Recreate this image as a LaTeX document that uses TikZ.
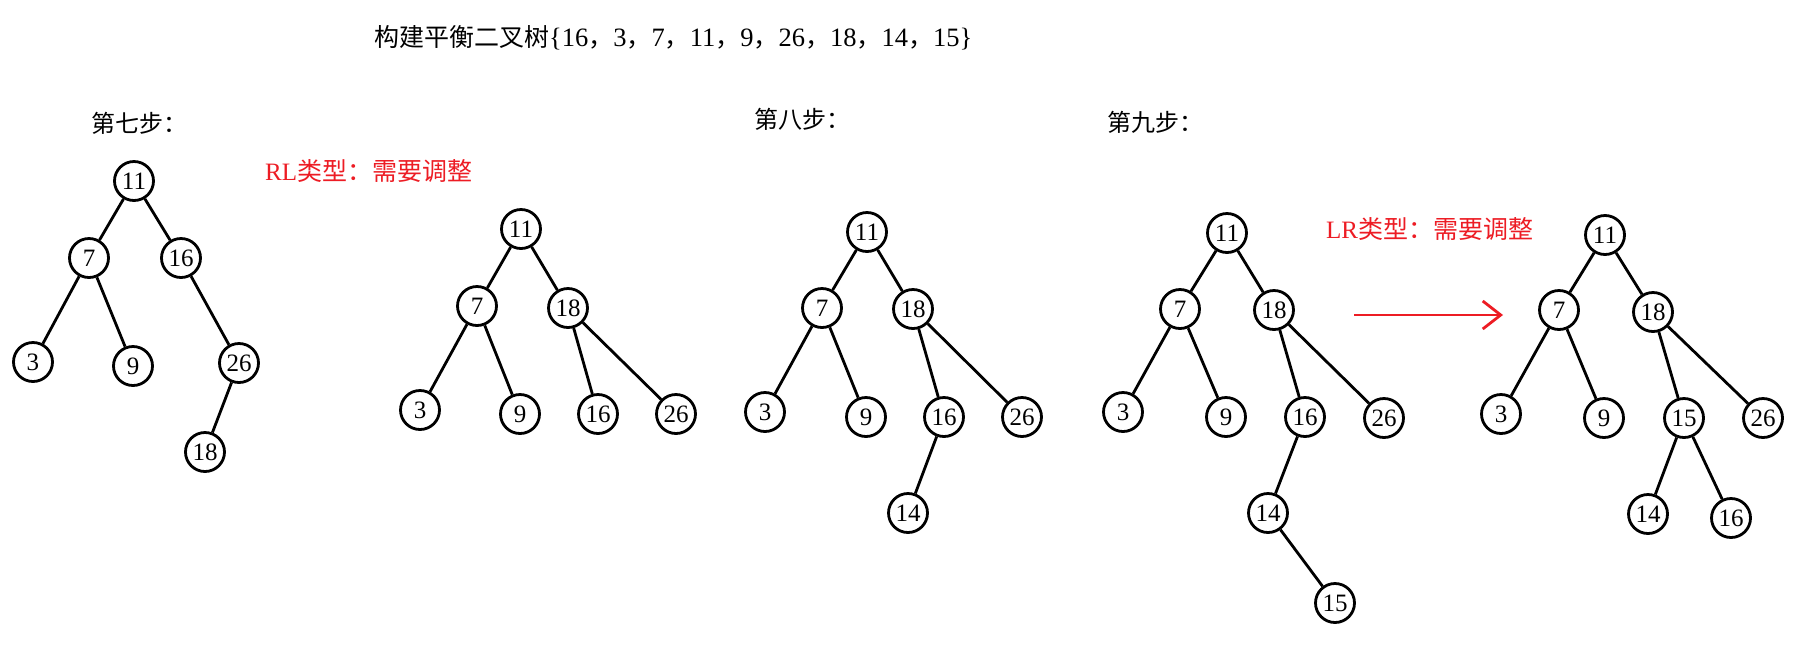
\documentclass[tikz,border=0pt]{standalone}
\usepackage{fontspec}
\setmainfont{Liberation Serif}
\newfontfamily\cjk{Noto Sans CJK SC}
\usetikzlibrary{arrows.meta}
\definecolor{pred}{RGB}{237,28,36}
\newcommand\zcomma{{\cjk\fontsize{25}{25}\selectfont ，}}
\begin{document}
\begin{tikzpicture}[x=1pt,y=-1pt,
  tn/.style={circle, draw, line width=2.8pt, minimum size=39pt, inner sep=0pt, font=\fontsize{25}{25}\selectfont},
  edge/.style={line width=2.8pt},
  lbl/.style={anchor=west, inner sep=0pt, font=\fontsize{24}{24}\selectfont},
  redlbl/.style={anchor=west, inner sep=0pt, text=pred, font=\fontsize{25}{25}\selectfont}]
\fill[white] (0,0) rectangle (1815,649);
\useasboundingbox (0,0) rectangle (1815,649);

% texts
\node[anchor=west, inner sep=0pt, font=\fontsize{26.5}{26.5}\selectfont] (title) at (374,38)
  {{\cjk\fontsize{25}{25}\selectfont 构建平衡二叉树}\{16\zcomma 3\zcomma 7\zcomma 11\zcomma 9\zcomma 26\zcomma 18\zcomma 14\zcomma 15\}};
\node[lbl] (s7) at (91,123) {{\cjk 第七步：}};
\node[redlbl] (rl) at (265,171) {RL{\cjk 类型：需要调整}};
\node[lbl] (s8) at (754,119) {{\cjk 第八步：}};
\node[lbl] (s9) at (1107,122) {{\cjk 第九步：}};
\node[redlbl] (lr) at (1326,229) {LR{\cjk 类型：需要调整}};

% tree 1
\node[tn] (a11) at (134,181) {11};
\node[tn] (a7)  at (89,258) {7};
\node[tn] (a16) at (181,258) {16};
\node[tn] (a3)  at (33,362) {3};
\node[tn] (a9)  at (133,366) {9};
\node[tn] (a26) at (239,363) {26};
\node[tn] (a18) at (205,452) {18};
\draw[edge] (a11) -- (a7);
\draw[edge] (a11) -- (a16);
\draw[edge] (a7) -- (a3);
\draw[edge] (a7) -- (a9);
\draw[edge] (a16) -- (a26);
\draw[edge] (a26) -- (a18);

% tree 2
\node[tn] (b11) at (521,229) {11};
\node[tn] (b7)  at (477,306) {7};
\node[tn] (b18) at (568,308) {18};
\node[tn] (b3)  at (420,410) {3};
\node[tn] (b9)  at (520,414) {9};
\node[tn] (b16) at (598,414) {16};
\node[tn] (b26) at (676,414) {26};
\draw[edge] (b11) -- (b7);
\draw[edge] (b11) -- (b18);
\draw[edge] (b7) -- (b3);
\draw[edge] (b7) -- (b9);
\draw[edge] (b18) -- (b16);
\draw[edge] (b18) -- (b26);

% tree 3
\node[tn] (c11) at (867,232) {11};
\node[tn] (c7)  at (822,308) {7};
\node[tn] (c18) at (913,309) {18};
\node[tn] (c3)  at (765,412) {3};
\node[tn] (c9)  at (866,417) {9};
\node[tn] (c16) at (944,417) {16};
\node[tn] (c26) at (1022,417) {26};
\node[tn] (c14) at (908,513) {14};
\draw[edge] (c11) -- (c7);
\draw[edge] (c11) -- (c18);
\draw[edge] (c7) -- (c3);
\draw[edge] (c7) -- (c9);
\draw[edge] (c18) -- (c16);
\draw[edge] (c18) -- (c26);
\draw[edge] (c16) -- (c14);

% tree 4
\node[tn] (d11) at (1227,233) {11};
\node[tn] (d7)  at (1180,309) {7};
\node[tn] (d18) at (1274,310) {18};
\node[tn] (d3)  at (1123,412) {3};
\node[tn] (d9)  at (1226,417) {9};
\node[tn] (d16) at (1305,417) {16};
\node[tn] (d26) at (1384,418) {26};
\node[tn] (d14) at (1268,513) {14};
\node[tn] (d15) at (1335,603) {15};
\draw[edge] (d11) -- (d7);
\draw[edge] (d11) -- (d18);
\draw[edge] (d7) -- (d3);
\draw[edge] (d7) -- (d9);
\draw[edge] (d18) -- (d16);
\draw[edge] (d18) -- (d26);
\draw[edge] (d16) -- (d14);
\draw[edge] (d14) -- (d15);

% arrow
\coordinate (arS) at (1354,315);
\coordinate (arE) at (1503,315);
\draw[line width=2.8pt, pred, -{Straight Barb[length=18pt,width=28pt,line width=2.8pt]}] (arS) -- (arE);

% tree 5
\node[tn] (e11) at (1605,235) {11};
\node[tn] (e7)  at (1559,310) {7};
\node[tn] (e18) at (1653,312) {18};
\node[tn] (e3)  at (1501,414) {3};
\node[tn] (e9)  at (1604,418) {9};
\node[tn] (e15) at (1684,418) {15};
\node[tn] (e26) at (1763,418) {26};
\node[tn] (e14) at (1648,514) {14};
\node[tn] (e16) at (1731,518) {16};
\draw[edge] (e11) -- (e7);
\draw[edge] (e11) -- (e18);
\draw[edge] (e7) -- (e3);
\draw[edge] (e7) -- (e9);
\draw[edge] (e18) -- (e15);
\draw[edge] (e18) -- (e26);
\draw[edge] (e15) -- (e14);
\draw[edge] (e15) -- (e16);
\end{tikzpicture}
\end{document}
